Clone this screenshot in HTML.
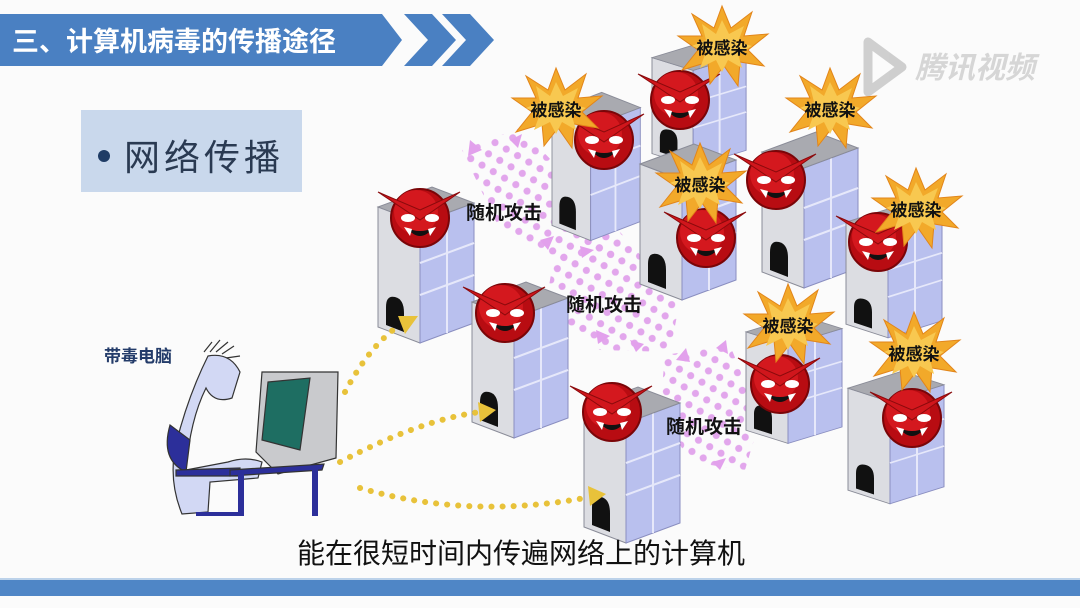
<!DOCTYPE html>
<html><head><meta charset="utf-8">
<style>
html,body{margin:0;padding:0;background:#fbfbfb;}
svg{display:block;}
text{font-family:"Liberation Sans","Noto Sans CJK SC","WenQuanYi Zen Hei",sans-serif;}
</style></head>
<body>
<svg width="1080" height="608" viewBox="0 0 1080 608" xmlns="http://www.w3.org/2000/svg">
<defs>
  <pattern id="pd" width="13" height="13" patternUnits="userSpaceOnUse" patternTransform="rotate(30)">
    <circle cx="6" cy="6" r="3.6" fill="#e2a6ec"/>
  </pattern>
  <g id="srv">
    <polygon points="0,12 42,28 42,148 0,132" fill="#dcdde2" stroke="#8a8c98" stroke-width="1"/>
    <polygon points="42,28 96,8 96,128 42,148" fill="#b9c0ee" stroke="#8a8ec0" stroke-width="1"/>
    <line x1="69" y1="18" x2="69" y2="138" stroke="#e6e8fa" stroke-width="2"/>
    <line x1="42" y1="68" x2="96" y2="48" stroke="#e6e8fa" stroke-width="2"/>
    <line x1="42" y1="100" x2="96" y2="80" stroke="#e6e8fa" stroke-width="2"/>
    <polygon points="0,12 54,-8 96,8 42,28" fill="#a9aab0" stroke="#8a8c98" stroke-width="1"/>
    <path d="M8,130 L8,112 Q8,100 17,102 Q26,104 26,118 L26,137 Z" fill="#111"/>
  </g>
  <g id="vir">
    <circle cx="0" cy="0" r="29" fill="#b80c12" stroke="#7a0508" stroke-width="2"/>
    <circle cx="-4" cy="-6" r="22" fill="#d4181e"/>
    <path d="M-42,-26 L0,2 L40,-26 L0,-8 Z" fill="#d0161c" stroke="#8a0a0c" stroke-width="1"/>
    <ellipse cx="-12" cy="0" rx="7" ry="4" fill="#fff"/>
    <ellipse cx="12" cy="0" rx="7" ry="4" fill="#fff"/>
    <path d="M-13,10 Q0,26 13,10 Q0,16 -13,10 Z" fill="#111"/>
    <path d="M-16,9 L-10,18 L-8,11 Z M16,9 L10,18 L8,11 Z" fill="#fff"/>
  </g>
  <g id="star">
    <polygon points="0,-40 9,-18 30,-34 22,-10 46,-12 26,4 42,20 18,16 16,40 2,20 -12,38 -14,16 -40,24 -24,4 -44,-10 -20,-10 -30,-32 -8,-18" fill="#f2a92a" stroke="#e2851a" stroke-width="1"/>
    <polygon points="0,-26 7,-12 22,-20 16,-4 30,0 16,8 20,22 6,14 0,26 -6,14 -22,22 -16,6 -30,0 -16,-6 -20,-22 -6,-12" fill="#f8c850"/>
  </g>
</defs>

<!-- title banner -->
<polygon points="0,14 382,14 402,40 382,66 0,66" fill="#4a80c2"/>
<polygon points="404,14 432,14 456,40 432,66 404,66 428,40" fill="#4a80c2"/>
<polygon points="442,14 470,14 494,40 470,66 442,66 466,40" fill="#4a80c2"/>
<text x="12" y="51" font-size="27" font-weight="bold" fill="#fff">三、计算机病毒的传播途径</text>

<!-- watermark -->
<g opacity="0.45">
  <path d="M868,42 L868,92 L902,67 Z" fill="none" stroke="#999" stroke-width="9" stroke-linejoin="round"/>
  <text x="915" y="78" font-size="30" font-style="italic" font-weight="bold" fill="#aaa">腾讯视频</text>
</g>

<!-- subtitle box -->
<rect x="81" y="110" width="221" height="82" fill="#c9d8ec"/>
<circle cx="104" cy="156" r="6" fill="#1f3c66"/>
<text x="124" y="170" font-size="36" fill="#2a3a52" letter-spacing="4">网络传播</text>

<!-- pink attack clouds -->
<polygon points="462,150 520,128 600,210 620,260 560,262 500,230" fill="url(#pd)"/>
<polygon points="555,250 620,232 680,300 670,352 600,350 545,310" fill="url(#pd)"/>
<polygon points="665,355 730,345 760,420 745,470 690,462 660,410" fill="url(#pd)"/>
<g fill="#e2a0ec">
 <polygon points="470,140 482,150 468,156"/><polygon points="510,140 522,134 518,148"/>
 <polygon points="540,240 554,236 548,250"/><polygon points="580,246 594,250 582,258"/>
 <polygon points="596,330 610,336 598,344"/><polygon points="630,340 644,344 636,352"/>
 <polygon points="676,360 686,348 690,362"/><polygon points="716,348 726,340 728,354"/>
 <polygon points="712,462 726,458 720,470"/><polygon points="660,260 674,262 664,272"/>
</g>

<!-- servers back to front -->
<use href="#srv" transform="translate(652,48) scale(0.98,0.8)"/>
<use href="#srv" transform="translate(552,100) scale(0.92,0.95)"/>
<use href="#srv" transform="translate(762,140)"/>
<use href="#srv" transform="translate(640,152)"/>
<use href="#srv" transform="translate(846,212) scale(1,0.85)"/>
<use href="#srv" transform="translate(378,195)"/>
<use href="#srv" transform="translate(746,322) scale(1,0.82)"/>
<use href="#srv" transform="translate(472,290)"/>
<use href="#srv" transform="translate(848,378) scale(1,0.85)"/>
<use href="#srv" transform="translate(584,395)"/>

<!-- viruses -->
<use href="#vir" transform="translate(680,100)"/>
<use href="#vir" transform="translate(604,140)"/>
<use href="#vir" transform="translate(776,180)"/>
<use href="#vir" transform="translate(706,238)"/>
<use href="#vir" transform="translate(878,242)"/>
<use href="#vir" transform="translate(420,218)"/>
<use href="#vir" transform="translate(505,313)"/>
<use href="#vir" transform="translate(780,384)"/>
<use href="#vir" transform="translate(912,418)"/>
<use href="#vir" transform="translate(612,412)"/>

<!-- stars -->
<g font-size="17" font-weight="bold" fill="#111" text-anchor="middle">
<use href="#star" transform="translate(722,46)"/><text x="722" y="54">被感染</text>
<use href="#star" transform="translate(556,108)"/><text x="556" y="116">被感染</text>
<use href="#star" transform="translate(830,108)"/><text x="830" y="116">被感染</text>
<use href="#star" transform="translate(700,183)"/><text x="700" y="191">被感染</text>
<use href="#star" transform="translate(916,208)"/><text x="916" y="216">被感染</text>
<use href="#star" transform="translate(788,324)"/><text x="788" y="332">被感染</text>
<use href="#star" transform="translate(914,352)"/><text x="914" y="360">被感染</text>
</g>

<!-- attack labels -->
<g font-size="19" font-weight="bold" fill="#111">
<text x="466" y="219">随机攻击</text>
<text x="566" y="311">随机攻击</text>
<text x="666" y="433">随机攻击</text>
</g>

<!-- yellow dotted arrows -->
<g fill="none" stroke="#e8c23a" stroke-width="6" stroke-linecap="round" stroke-dasharray="0.1 11">
  <path d="M345,392 Q370,345 400,325"/>
  <path d="M340,462 Q420,420 480,412"/>
  <path d="M360,488 Q470,520 590,497"/>
</g>
<g fill="#e8c23a">
  <polygon points="398,316 418,316 405,334"/>
  <polygon points="478,402 496,410 480,422"/>
  <polygon points="588,486 606,494 590,506"/>
</g>

<!-- person & computer -->
<text x="104" y="362" font-size="17" font-weight="bold" fill="#243c6a">带毒电脑</text>
<g stroke="#333" stroke-width="1.2">
  <path d="M204,352 L212,342 M210,352 L220,340 M216,352 L228,342 M222,354 L234,346 M226,358 L240,356" fill="none"/>
  <path d="M208,356 Q230,352 240,372 L232,398 Q214,404 206,388 Q190,420 186,470 L228,462 Q246,456 262,462 L258,478 L210,482 L208,512 L182,514 Q168,480 176,444 Q188,396 208,356 Z" fill="#d2d8f4"/>
  <path d="M170,425 Q160,460 186,472 L190,440 Z" fill="#2c2f9a"/>
  <path d="M176,470 L240,468 L240,476 L176,476 Z" fill="#2c2f9a"/>
  <path d="M262,372 L338,372 L336,458 L278,474 L256,452 Z" fill="#c9cacd"/>
  <path d="M268,382 L310,378 L300,450 L262,440 Z" fill="#1e6e62"/>
  <path d="M230,470 L324,464 L322,470 L230,476 Z" fill="#2c2f9a"/>
  <rect x="238" y="472" width="6" height="44" fill="#2c2f9a" stroke="none"/>
  <rect x="312" y="466" width="6" height="50" fill="#2c2f9a" stroke="none"/>
  <path d="M196,514 L242,514" stroke="#2c2f9a" stroke-width="4"/>
</g>

<!-- caption -->
<text x="297" y="563" font-size="28" fill="#111">能在很短时间内传遍网络上的计算机</text>

<!-- bottom bar -->
<rect x="0" y="580" width="1080" height="16" fill="#4f86c6"/>
<rect x="0" y="578" width="1080" height="2" fill="#bcd2ea"/>
</svg>
</body></html>
